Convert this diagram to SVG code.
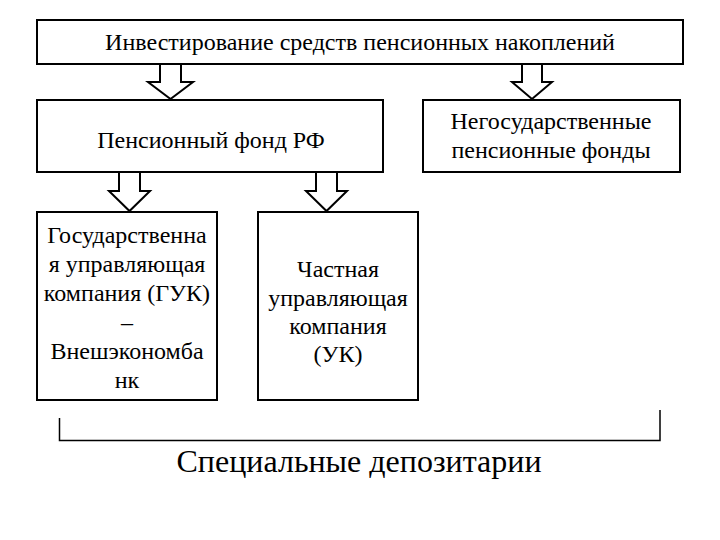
<svg xmlns="http://www.w3.org/2000/svg" width="720" height="540" viewBox="0 0 720 540">
<style>
.box{fill:#fff;stroke:#000;stroke-width:2}
.arr{fill:#fff;stroke:#000;stroke-width:2;stroke-linejoin:miter}
.t{font-family:'Liberation Serif','Times New Roman',serif;font-size:24px;fill:#000;text-anchor:middle}
.big{font-size:32px}
.br{fill:none;stroke:#000;stroke-width:1.5}
</style>
<rect width="720" height="540" fill="#fff"/>
<g id="connectors">
<polygon class="arr" points="160,64 181,64 181,82 193,82 170.5,99 148,82 160,82"/>
<polygon class="arr" points="522,64 542,64 542,82 552,82 532,99 512,82 522,82"/>
<polygon class="arr" points="119,172 140,172 140,191 150,191 129.5,211 109,191 119,191"/>
<polygon class="arr" points="316,172 337,172 337,191 347,191 326.5,211 306,191 316,191"/>
</g>
<g id="n-invest">
<rect class="box" x="37" y="20" width="646" height="44"/>
<text class="t" x="360" y="50">Инвестирование средств пенсионных накоплений</text>
</g>
<g id="n-pfr">
<rect class="box" x="37" y="100" width="346" height="72"/>
<text class="t" x="211" y="148">Пенсионный фонд РФ</text>
</g>
<g id="n-npf">
<rect class="box" x="423" y="100" width="257" height="72"/>
<text class="t" x="551" y="129">Негосударственные</text>
<text class="t" x="551" y="158">пенсионные фонды</text>
</g>
<g id="n-guk">
<rect class="box" x="37" y="212" width="180" height="188"/>
<text class="t" x="127" y="243">Государственна</text>
<text class="t" x="127" y="272">я управляющая</text>
<text class="t" x="127" y="301">компания (ГУК)</text>
<text class="t" x="127" y="330">–</text>
<text class="t" x="127" y="359">Внешэкономба</text>
<text class="t" x="127" y="388">нк</text>
</g>
<g id="n-uk">
<rect class="box" x="258" y="212" width="160" height="188"/>
<text class="t" x="338" y="277">Частная</text>
<text class="t" x="338" y="306">управляющая</text>
<text class="t" x="338" y="334">компания</text>
<text class="t" x="338" y="362">(УК)</text>
</g>
<g id="n-depo">
<polyline class="br" points="59.5,418 59.5,440.5 660,440.5 660,410"/>
<text class="t big" x="359" y="472">Специальные депозитарии</text>
</g>
</svg>
